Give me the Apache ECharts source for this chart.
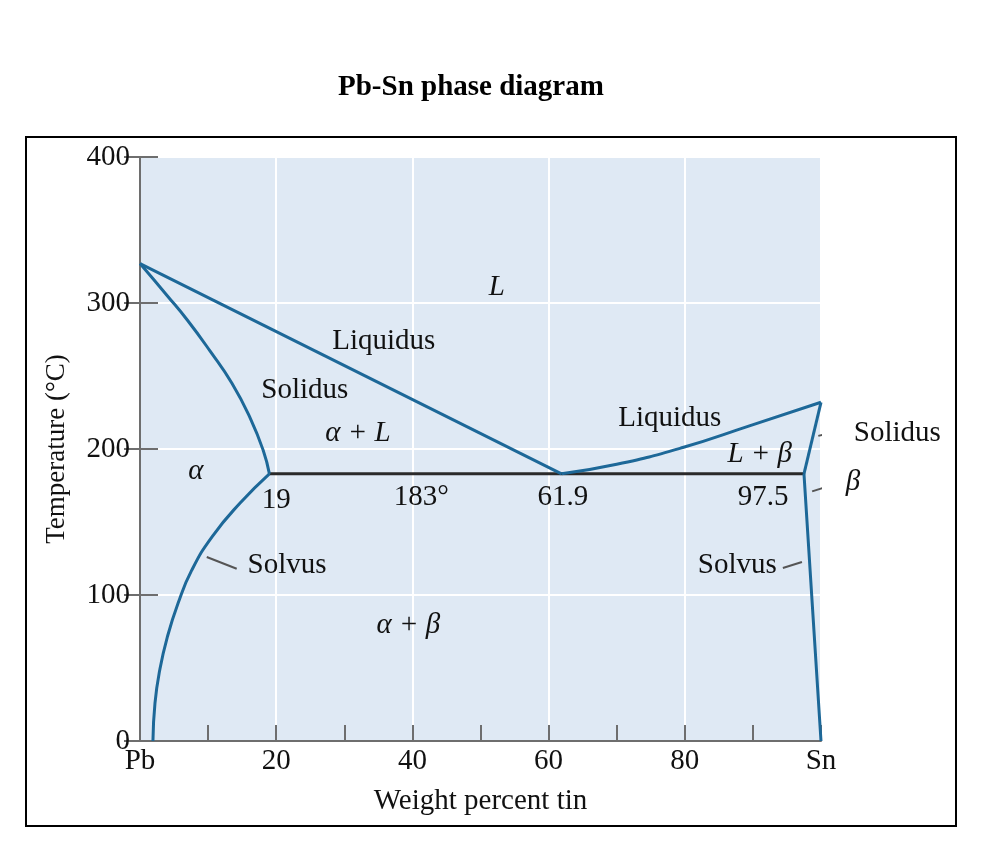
<!DOCTYPE html>
<html>
<head>
<meta charset="utf-8">
<title>Pb-Sn phase diagram</title>
<script src="https://cdn.jsdelivr.net/npm/echarts@6/dist/echarts.min.js"></script>
<style>
  html, body { margin: 0; padding: 0; background: #fff; }
  #phaseChart { width: 983px; height: 863px; }
</style>
</head>
<body>
<div id="phaseChart"></div>
<script>
// phase boundaries, [wt% Sn, temperature °C]
const liquidusLeft = [[0, 327], [61.9, 183]]
const solidusLeft = [[0, 327], [4, 305], [7, 288], [10.3, 267], [13.5, 245], [16.2, 221], [18.1, 199], [19, 183]]
const solvusLeft = [[19, 183], [14.7, 163], [10.6, 140], [7.6, 117], [5.6, 94.5], [4.0, 71], [2.9, 48.6], [2.2, 26], [1.9, 0]]
const eutecticLine = [[19, 183], [97.5, 183]]
const liquidusRight = [[61.9, 183], [70, 189.5], [79.7, 201], [89.6, 216], [100, 232]]
const solidusRight = [[100, 232], [97.5, 183]]
const solvusRight = [[97.5, 183], [98.7, 95], [100, 0]]

// region names and point annotations
const regionLabels = [
  { value: [52.4, 311], name: 'L', italic: true },
  { value: [35.8, 274], name: 'Liquidus' },
  { value: [24.2, 240], name: 'Solidus' },
  { value: [32, 211], name: 'α + L', italic: true },
  { value: [8.2, 185], name: 'α', italic: true },
  { value: [20, 165], name: '19' },
  { value: [41.3, 167], name: '183°' },
  { value: [62.1, 167], name: '61.9' },
  { value: [77.8, 221], name: 'Liquidus' },
  { value: [91, 196], name: 'L + β', italic: true },
  { value: [91.5, 167], name: '97.5' },
  { value: [21.6, 120], name: 'Solvus' },
  { value: [87.7, 120], name: 'Solvus' },
  { value: [39.4, 79], name: 'α + β', italic: true },
  { value: [111.2, 211], name: 'Solidus' },
  { value: [104.7, 177], name: 'β', italic: true }
]
// short leader lines from a label to its curve
const leaderLines = [
  [[99.6, 209], [103.5, 213]],
  [[98.7, 171], [103.4, 178]],
  [[9.8, 126], [14.2, 118]],
  [[94.4, 118.5], [97.2, 122.6]]
]

const xTickLabels = { 0: 'Pb', 20: '20', 40: '40', 60: '60', 80: '80', 100: 'Sn' }

const serif = '"Liberation Serif", "DejaVu Serif", serif'
const curveColor = '#1d6898'
const axisGray = '#6e6e6e'
const textColor = '#111'

const chart = echarts.init(document.getElementById('phaseChart'), null, { renderer: 'canvas' })

function curve(data) {
  return {
    type: 'line',
    data: data,
    smooth: 0.5,
    smoothMonotone: 'none',
    showSymbol: false,
    silent: true,
    lineStyle: { color: curveColor, width: 3 },
    z: 3
  }
}

const series = [
  curve(liquidusLeft),
  curve(solidusLeft),
  curve(solvusLeft),
  curve(liquidusRight),
  curve(solidusRight),
  curve(solvusRight),
  {
    type: 'line',
    data: eutecticLine,
    showSymbol: false,
    silent: true,
    lineStyle: { color: '#2a2a2a', width: 3 },
    z: 2
  }
]

leaderLines.forEach(seg => {
  series.push({
    type: 'line',
    data: seg,
    showSymbol: false,
    silent: true,
    clip: false,
    lineStyle: { color: '#555', width: 2 },
    z: 4
  })
})

series.push({
  type: 'scatter',
  clip: false,
  silent: true,
  symbolSize: 0,
  itemStyle: { opacity: 1 },
  data: regionLabels.map(d => ({
    value: d.value,
    name: d.name,
    label: { fontStyle: d.italic ? 'italic' : 'normal' }
  })),
  label: {
    show: true,
    position: 'inside',
    formatter: p => p.name,
    fontFamily: serif,
    fontSize: 29,
    color: textColor,
    opacity: 1,
    textBorderWidth: 0
  },
  z: 5
})

chart.setOption({
  animation: false,
  backgroundColor: '#fff',
  title: {
    text: 'Pb-Sn phase diagram',
    left: 333,
    top: 68,
    textStyle: { fontFamily: serif, fontSize: 29, fontWeight: 'bold', color: '#000' }
  },
  grid: {
    left: 140,
    top: 157,
    width: 681,
    height: 584,
    show: true,
    backgroundColor: '#dfe9f4',
    borderWidth: 0
  },
  xAxis: [
    {
      type: 'value',
      min: 0,
      max: 100,
      interval: 10,
      position: 'bottom',
      name: 'Weight percent tin',
      nameLocation: 'middle',
      nameGap: 46,
      nameTextStyle: { fontFamily: serif, fontSize: 29, color: textColor },
      axisLine: { show: true, lineStyle: { color: axisGray, width: 2 } },
      axisTick: { show: true, inside: true, length: 16, lineStyle: { color: axisGray, width: 2 } },
      axisLabel: {
        fontFamily: serif,
        fontSize: 29,
        color: textColor,
        margin: 6,
        showMinLabel: true,
        showMaxLabel: true,
        formatter: v => xTickLabels[v] || ''
      },
      splitLine: { show: false }
    },
    {
      type: 'value',
      min: 0,
      max: 100,
      interval: 20,
      position: 'top',
      axisLine: { show: false },
      axisTick: { show: false },
      axisLabel: { show: false },
      splitLine: { show: true, lineStyle: { color: '#ffffff', width: 2 } }
    }
  ],
  yAxis: [
    {
      type: 'value',
      min: 0,
      max: 400,
      interval: 100,
      position: 'left',
      name: 'Temperature (°C)',
      nameLocation: 'middle',
      nameGap: 70,
      nameRotate: 90,
      nameTextStyle: { fontFamily: serif, fontSize: 27, color: textColor },
      axisLine: { show: true, lineStyle: { color: axisGray, width: 2 } },
      axisTick: { show: true, inside: true, length: 18, lineStyle: { color: axisGray, width: 2 } },
      axisLabel: { fontFamily: serif, fontSize: 29, color: textColor, margin: 10 },
      splitLine: { show: true, lineStyle: { color: '#ffffff', width: 2 } }
    },
    {
      type: 'value',
      min: 0,
      max: 400,
      interval: 100,
      position: 'right',
      axisLine: { show: true, lineStyle: { color: axisGray, width: 2 } },
      axisTick: { show: true, inside: true, length: 16, lineStyle: { color: axisGray, width: 2 } },
      axisLabel: { show: false },
      splitLine: { show: false }
    }
  ],
  graphic: [
    {
      type: 'rect',
      shape: { x: 26, y: 137, width: 930, height: 689 },
      style: { fill: 'none', stroke: '#000', lineWidth: 2 },
      silent: true,
      z: 10
    }
  ],
  series: series
})
</script>
</body>
</html>
